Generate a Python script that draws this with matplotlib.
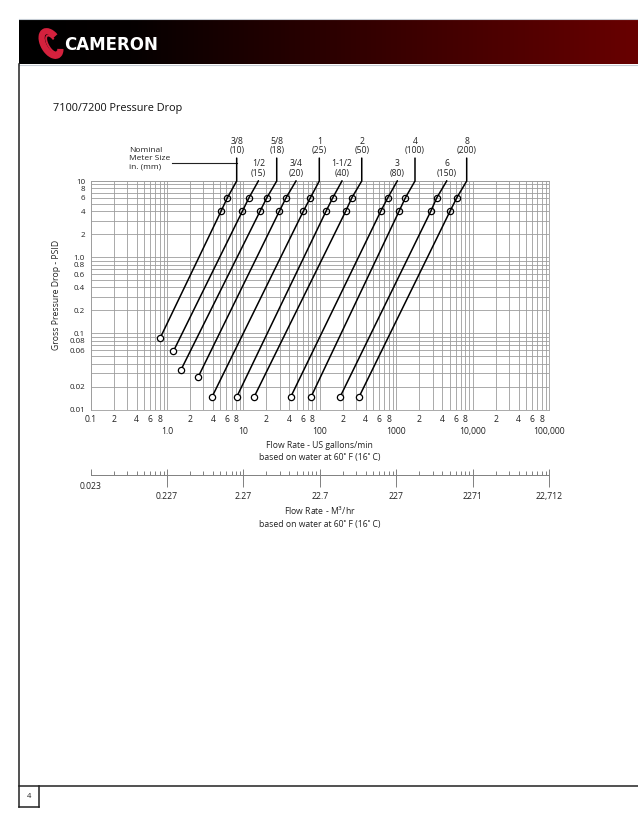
import numpy as np
import matplotlib
matplotlib.use('Agg')
import matplotlib.pyplot as plt
from matplotlib.ticker import FixedLocator, FixedFormatter, LogLocator, FuncFormatter, NullFormatter
from matplotlib.colors import LinearSegmentedColormap
from matplotlib.patches import Arc

plt.rcParams['font.family'] = ['Open Sans', 'DejaVu Sans']

# meter sizes, in. and (mm)
sizes_in = ['3/8', '1/2', '5/8', '3/4', '1', '1-1/2', '2', '3', '4', '6', '8']
sizes_mm = ['(10)', '(15)', '(18)', '(20)', '(25)', '(40)', '(50)', '(80)', '(100)', '(150)', '(200)']
label_high = [True, False, True, False, True, False, True, False, True, False, True]

# lowest point of each curve (gpm, psid)
min_flow = [0.81, 1.21, 1.52, 2.57, 3.88, 8.17, 13.8, 41.6, 76.7, 184, 326]
min_dp = [0.086, 0.058, 0.033, 0.027, 0.0146, 0.0146, 0.0146, 0.0146, 0.0146, 0.0146, 0.0146]
# flow at 4, 6 and 10 psid (gpm)
flow_4 = [5.09, 9.68, 16.5, 29.5, 60.8, 120.5, 218, 627, 1089, 2832, 5058]
flow_6 = [6.15, 11.8, 20.2, 36.1, 75.1, 147.5, 262, 774, 1316, 3390, 6195]
flow_10 = [8.17, 15.7, 27.3, 48.8, 98.5, 195, 354, 1033, 1762, 4581, 8370]
dp_marks = [4, 6, 10]

# axis ticks
x_decades = [1, 10, 100, 1000, 10000, 100000]
x_decade_labels = ['1.0', '10', '100', '1000', '10,000', '100,000']
x_minor_labeled = {1: '0.1', 2: '2', 4: '4', 6: '6', 8: '8'}
y_ticks = [0.01, 0.02, 0.06, 0.08, 0.1, 0.2, 0.4, 0.6, 0.8, 1.0, 2, 4, 6, 8, 10]
y_labels = ['0.01', '0.02', '0.06', '0.08', '0.1', '0.2', '0.4', '0.6', '0.8', '1.0', '2', '4', '6', '8', '10']
m3_pos = [0.1, 1, 10, 100, 1000, 10000, 100000]
m3_labels = ['0.023', '0.227', '2.27', '22.7', '227', '2271', '22,712']

W, H = 638, 826
fig = plt.figure(figsize=(W / 100, H / 100), dpi=100)

# page decoration in pixel coords
page = fig.add_axes([0, 0, 1, 1])
page.set_xlim(0, W)
page.set_ylim(H, 0)
page.axis('off')
cmap = LinearSegmentedColormap.from_list('hdr', [(0, '#000000'), (0.18, '#050000'), (1, '#680000')])
page.imshow(np.linspace(0, 1, 300)[None, :], cmap=cmap, extent=(19, W, 64, 19), aspect='auto')
page.plot([19, W], [18.5, 18.5], color='#c5ccd4', lw=0.8)
page.plot([19, W], [64.8, 64.8], color='#c5ccd4', lw=0.8)
page.add_patch(Arc((51, 43.5), 15, 27, angle=-30, theta1=60, theta2=330, color='#d4213d', lw=4.5))
page.add_patch(Arc((52, 44), 8, 19, angle=-30, theta1=80, theta2=320, color='#d4213d', lw=1.4))
page.text(64, 45.5, 'CAMERON', color='white', fontsize=12, fontweight='bold', va='center', ha='left',
          family='DejaVu Sans')
page.plot([19, 19], [64, 806.7], color='#222222', lw=1.1)
page.plot([19, W], [786.3, 786.3], color='#222222', lw=1.1)
page.plot([19, 39.3], [806.7, 806.7], color='#222222', lw=1.1)
page.plot([39.3, 39.3], [786.3, 806.7], color='#222222', lw=1.1)
page.text(29, 797, '4', fontsize=5.5, ha='center', va='center', color='#222222')
page.text(53, 109, '7100/7200 Pressure Drop', fontsize=7.8, ha='left', va='center', color='#111111')
page.text(129, 146.5, 'Nominal\nMeter Size\nin. (mm)', fontsize=6, ha='left', va='top',
          linespacing=1.25, color='#222222')
page.plot([172, 237], [163, 163], color='#222222', lw=0.8)

# main chart
ax = fig.add_axes([90.6 / W, 1 - 409.5 / H, 458.4 / W, 228.5 / H])
ax.set_xscale('log')
ax.set_yscale('log')
ax.set_xlim(0.1, 100000)
ax.set_ylim(0.01, 10)

ax.xaxis.set_major_locator(FixedLocator(x_decades))
ax.xaxis.set_major_formatter(FixedFormatter(x_decade_labels))
ax.xaxis.set_minor_locator(LogLocator(base=10, subs=np.arange(1, 10)))


def minor_fmt(v, pos):
    m = int(round(v / 10 ** np.floor(np.log10(v))))
    if m == 1:
        return x_minor_labeled[1] if v < 0.5 else ''
    return x_minor_labeled.get(m, '')


ax.xaxis.set_minor_formatter(FuncFormatter(minor_fmt))
ax.yaxis.set_major_locator(FixedLocator(y_ticks))
ax.yaxis.set_major_formatter(FixedFormatter(y_labels))
ax.yaxis.set_minor_locator(LogLocator(base=10, subs=np.arange(2, 10)))
ax.yaxis.set_minor_formatter(NullFormatter())

ax.grid(which='both', color='#9c9c9c', lw=0.6)
for s in ax.spines.values():
    s.set_color('#9c9c9c')
    s.set_linewidth(0.6)
ax.tick_params(which='both', length=0, labelsize=6.2, colors='#222222')
ax.tick_params(axis='x', which='minor', pad=4)
ax.tick_params(axis='x', which='major', pad=12.3)
ax.tick_params(axis='y', pad=4, labelsize=5.8)

ax.set_ylabel('Gross Pressure Drop - PSID', fontsize=6.2, color='#222222', labelpad=6)
ax.set_xlabel('Flow Rate - US gallons/min\nbased on water at 60˚ F (16˚ C)', fontsize=6.2,
              color='#222222', labelpad=4, linespacing=1.35)

for i in range(len(sizes_in)):
    xs = [min_flow[i], flow_4[i], flow_6[i], flow_10[i]]
    ys = [min_dp[i]] + dp_marks
    ax.plot(xs, ys, color='black', lw=1.1, zorder=3, solid_capstyle='butt')
    ax.plot([min_flow[i]], [min_dp[i]], 'o', ms=4.5, mfc='white', mec='black', mew=0.9, zorder=4)
    ax.plot([flow_4[i], flow_6[i]], dp_marks[:2], 'o', ms=4.5, mfc='none', mec='black', mew=0.9, zorder=4)
    off = 18.5 if label_high[i] else 2.2
    ax.annotate(sizes_in[i] + '\n' + sizes_mm[i], xy=(flow_10[i], 10), xytext=(0, off),
                textcoords='offset points', ha='center', va='bottom', fontsize=6.2,
                linespacing=1.1, color='#222222', annotation_clip=False,
                arrowprops=dict(arrowstyle='-', lw=1.1, color='black', shrinkA=0, shrinkB=0))

# cubic meters per hour scale
ax2 = fig.add_axes([90.6 / W, 1 - 475 / H, 458.4 / W, 6 / H])
ax2.set_xscale('log')
ax2.set_xlim(0.1, 100000)
ax2.set_ylim(0, 1)
ax2.patch.set_visible(False)
for k in ['top', 'left', 'right']:
    ax2.spines[k].set_visible(False)
ax2.spines['bottom'].set_color('#808080')
ax2.spines['bottom'].set_linewidth(0.7)
ax2.set_yticks([])
ax2.xaxis.set_major_locator(FixedLocator(m3_pos[1:]))
ax2.xaxis.set_major_formatter(FixedFormatter(m3_labels[1:]))
ax2.xaxis.set_minor_locator(LogLocator(base=10, subs=np.arange(2, 10)))
ax2.xaxis.set_minor_formatter(NullFormatter())
ax2.tick_params(axis='x', which='major', direction='out', length=8.6, width=0.7, color='#808080',
                labelsize=6.2, labelcolor='#222222', pad=3.5)
ax2.tick_params(axis='x', which='minor', direction='in', length=2.9, width=0.7, color='#808080')
ax2.vlines(m3_pos, 0, 1, color='#808080', lw=0.7, clip_on=False)
ax2.annotate(m3_labels[0], xy=(m3_pos[0], 0), xytext=(0, -8), textcoords='offset points',
             ha='center', va='center', fontsize=6.2, color='#222222', annotation_clip=False)
ax2.set_xlabel('Flow Rate - M$^3$/hr\nbased on water at 60˚ F (16˚ C)', fontsize=6.2,
               color='#222222', labelpad=3, linespacing=1.35)

fig.savefig('out.png', dpi=100)
